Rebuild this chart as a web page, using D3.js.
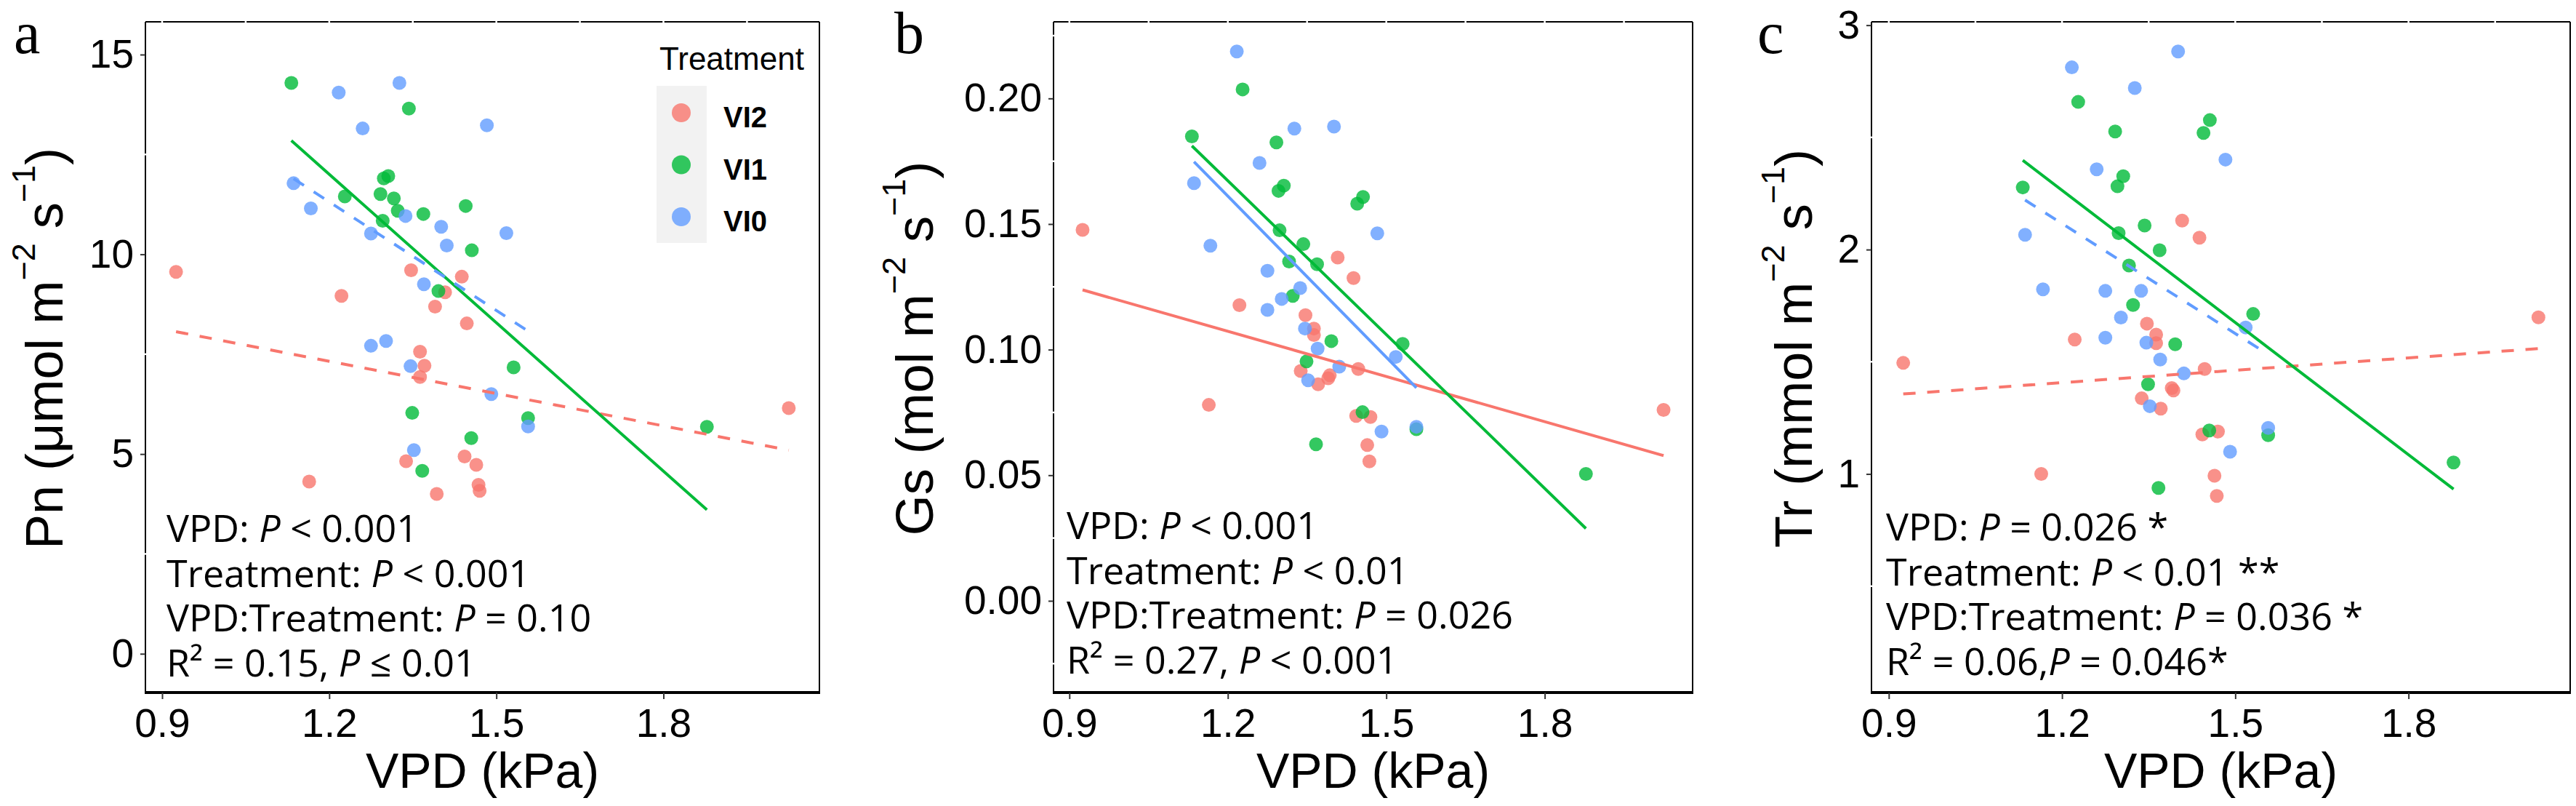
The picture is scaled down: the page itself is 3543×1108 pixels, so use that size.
<!DOCTYPE html>
<html>
<head>
<meta charset="utf-8">
<script src="https://cdn.jsdelivr.net/npm/d3@7"></script>
<style>
    body { margin: 0; background: #fff; }
</style>
</head>
<body>
<svg id="chart" width="3543" height="1108"></svg>
<script>
const treatments = ['VI2', 'VI1', 'VI0']
const vpdTicks = [0.9, 1.2, 1.5, 1.8]
const pnTicks = [0, 5, 10, 15]
const gsTicks = [0, 0.05, 0.1, 0.15, 0.2]
const trTicks = [1, 2, 3]

// one entry per leaf, VPD shared by the three responses
const vpdVI2 = [0.925, 1.164, 1.222, 1.338, 1.347, 1.363, 1.363, 1.371, 1.390, 1.393, 1.408, 1.438, 1.443, 1.447, 1.464, 1.468, 1.470, 2.025]
const pnVI2 = [9.56, 4.31, 8.96, 4.82, 9.60, 7.56, 6.93, 7.21, 8.69, 4.00, 9.05, 9.44, 4.94, 8.27, 4.73, 4.23, 4.08, 6.15]
const gsVI2 = [0.1477, 0.0780, 0.1177, 0.0915, 0.1137, 0.1084, 0.1058, 0.0862, 0.0886, 0.0898, 0.1367, 0.1285, 0.0736, 0.0923, 0.0620, 0.0555, 0.0732, 0.0760]
const trVI2 = [1.495, 1.000, 1.599, 1.337, 1.670, 1.621, 1.583, 1.291, 1.383, 1.372, 2.129, 2.053, 1.176, 1.468, 0.992, 0.902, 1.189, 1.698]

const vpdVI1 = [1.132, 1.228, 1.292, 1.296, 1.298, 1.306, 1.316, 1.323, 1.343, 1.349, 1.367, 1.369, 1.396, 1.445, 1.456, 1.455, 1.531, 1.557, 1.878]
const pnVI1 = [14.29, 11.45, 11.51, 10.84, 11.90, 11.96, 11.40, 11.09, 13.65, 6.03, 4.58, 11.01, 9.08, 11.21, 10.10, 5.40, 7.17, 5.90, 5.68]
const gsVI1 = [0.1849, 0.2036, 0.1825, 0.1632, 0.1475, 0.1653, 0.1351, 0.1214, 0.1420, 0.0953, 0.0623, 0.1340, 0.1034, 0.1581, 0.1608, 0.0751, 0.1023, 0.0683, 0.0505]
const trVI1 = [2.277, 2.658, 2.526, 2.282, 2.073, 2.327, 1.929, 1.753, 2.107, 1.400, 0.938, 1.997, 1.578, 2.520, 2.577, 1.194, 1.713, 1.173, 1.051]

const vpdVI0 = [1.136, 1.167, 1.217, 1.260, 1.275, 1.275, 1.302, 1.326, 1.337, 1.346, 1.352, 1.370, 1.401, 1.411, 1.483, 1.491, 1.518, 1.557]
const pnVI0 = [11.78, 11.15, 14.05, 13.15, 10.52, 7.71, 7.83, 14.29, 10.96, 7.20, 5.10, 9.25, 10.69, 10.22, 13.23, 6.50, 10.53, 5.69]
const gsVI0 = [0.1663, 0.1414, 0.2187, 0.1743, 0.1314, 0.1158, 0.1202, 0.1880, 0.1245, 0.1084, 0.0878, 0.1004, 0.1888, 0.0932, 0.1463, 0.0674, 0.0971, 0.0693]
const trVI0 = [2.066, 1.823, 2.812, 2.358, 1.816, 1.607, 1.697, 2.720, 1.816, 1.585, 1.302, 1.510, 2.883, 1.448, 2.401, 1.099, 1.653, 1.205]

// each line: text before the italic P, text after it
const statsPn = [['VPD: ', ' < 0.001'], ['Treatment: ', ' < 0.001'], ['VPD:Treatment: ', ' = 0.10'], ['R² = 0.15, ', ' ≤ 0.01']]
const statsGs = [['VPD: ', ' < 0.001'], ['Treatment: ', ' < 0.01'], ['VPD:Treatment: ', ' = 0.026'], ['R² = 0.27, ', ' < 0.001']]
const statsTr = [['VPD: ', ' = 0.026 *'], ['Treatment: ', ' < 0.01 **'], ['VPD:Treatment: ', ' = 0.036 *'], ['R² = 0.06,', ' = 0.046*']]

const vpd = { VI2: vpdVI2, VI1: vpdVI1, VI0: vpdVI0 }
const colors = { VI2: '#F8766D', VI1: '#00BA38', VI0: '#619CFF' }
const sans = 'Liberation Sans, Arial, sans-serif'
const noteFont = 'Open Sans, Noto Sans, sans-serif'

const panels = [
    {
        label: 'a', labelX: 19, box: { left: 200, right: 1127, top: 30, bottom: 952 },
        yDomain: [-0.97, 15.82], yTicks: pnTicks, yFormat: d3.format('d'),
        values: { VI2: pnVI2, VI1: pnVI1, VI0: pnVI0 },
        dashed: { VI2: true, VI1: false, VI0: true },
        title: ['Pn (μmol m', '−2', ' s', '−1', ')'], titleX: 86,
        stats: statsPn, statsX: 229, statsY: 745, legend: true
    },
    {
        label: 'b', labelX: 1230, box: { left: 1449, right: 2328, top: 30, bottom: 952 },
        yDomain: [-0.0365, 0.2305], yTicks: gsTicks, yFormat: d3.format('.2f'),
        values: { VI2: gsVI2, VI1: gsVI1, VI0: gsVI0 },
        dashed: { VI2: false, VI1: false, VI0: false },
        title: ['Gs (mol m', '−2', ' s', '−1', ')'], titleX: 1283,
        stats: statsGs, statsX: 1467, statsY: 741, legend: false
    },
    {
        label: 'c', labelX: 2417, box: { left: 2574, right: 3535, top: 30, bottom: 952 },
        yDomain: [0.026, 3.015], yTicks: trTicks, yFormat: d3.format('d'),
        values: { VI2: trVI2, VI1: trVI1, VI0: trVI0 },
        dashed: { VI2: true, VI1: false, VI0: true },
        title: ['Tr (mmol m', '−2', ' s', '−1', ')'], titleX: 2492,
        stats: statsTr, statsX: 2594, statsY: 743, legend: false
    }
]

// ordinary least squares, as geom_smooth(method = 'lm') does
function fit(xs, ys) {
    const mx = d3.mean(xs)
    const my = d3.mean(ys)
    const slope = d3.sum(xs, (x, i) => (x - mx) * (ys[i] - my)) / d3.sum(xs, x => (x - mx) ** 2)
    return { slope, intercept: my - slope * mx }
}

const svg = d3.select('#chart')

function drawPanel(p) {
    const { left, right, top, bottom } = p.box
    const x = d3.scaleLinear().domain([0.87, 2.08]).range([left, right])
    const y = d3.scaleLinear().domain(p.yDomain).range([bottom, top])
    const g = svg.append('g')

    // panel border, heavier along the bottom
    g.append('line').attr('x1', left).attr('x2', right).attr('y1', top).attr('y2', top)
        .attr('stroke', '#000').attr('stroke-width', 2)
    g.append('line').attr('x1', left).attr('x2', left).attr('y1', top).attr('y2', bottom)
        .attr('stroke', '#000').attr('stroke-width', 2)
    g.append('line').attr('x1', right).attr('x2', right).attr('y1', top).attr('y2', bottom)
        .attr('stroke', '#000').attr('stroke-width', 2)
    g.append('line').attr('x1', left - 1).attr('x2', right + 1).attr('y1', bottom).attr('y2', bottom)
        .attr('stroke', '#000').attr('stroke-width', 4)

    // white grid lines only show where they cut the border
    const xGrid = d3.range(0.9, 2.0, 0.15)
    g.selectAll('.xgap').data(xGrid).join('line')
        .attr('x1', d => x(d)).attr('x2', d => x(d))
        .attr('y1', top - 2).attr('y2', top + 2)
        .attr('stroke', '#fff').attr('stroke-width', 2.5)
    const step = p.yTicks[1] - p.yTicks[0]
    const yMinor = d3.range(p.yTicks[0] - step / 2, p.yDomain[1], step)
        .filter(d => d > p.yDomain[0] && d < p.yDomain[1])
    g.selectAll('.ygap').data(yMinor).join('line')
        .attr('x1', left - 2).attr('x2', left + 2)
        .attr('y1', d => y(d)).attr('y2', d => y(d))
        .attr('stroke', '#fff').attr('stroke-width', 2.5)

    const yAxis = g.append('g')
        .attr('transform', `translate(${left},0)`)
        .call(d3.axisLeft(y).tickValues(p.yTicks).tickFormat(p.yFormat).tickSize(7).tickPadding(9))
    const xAxis = g.append('g')
        .attr('transform', `translate(0,${bottom})`)
        .call(d3.axisBottom(x).tickValues(vpdTicks).tickFormat(d3.format('.1f')).tickSize(9).tickPadding(13))
    ;[yAxis, xAxis].forEach(axis => {
        axis.select('.domain').remove()
        axis.selectAll('.tick line').attr('stroke', '#333').attr('stroke-width', 2)
        axis.selectAll('.tick text')
            .attr('fill', '#000').attr('font-family', sans).attr('font-size', 55)
    })

    treatments.forEach(t => {
        g.append('g').selectAll('circle')
            .data(vpd[t].map((v, i) => [v, p.values[t][i]]))
            .join('circle')
            .attr('cx', d => x(d[0]))
            .attr('cy', d => y(d[1]))
            .attr('r', 9.5)
            .attr('fill', colors[t])
            .attr('fill-opacity', 0.8)
    })

    treatments.forEach(t => {
        const { slope, intercept } = fit(vpd[t], p.values[t])
        const ends = d3.extent(vpd[t])
        g.append('path')
            .datum(ends)
            .attr('d', d3.line().x(v => x(v)).y(v => y(intercept + slope * v)))
            .attr('fill', 'none')
            .attr('stroke', colors[t])
            .attr('stroke-width', 4)
            .attr('stroke-dasharray', p.dashed[t] ? '17,16' : null)
    })

    const notes = g.append('text')
        .attr('font-family', noteFont)
        .attr('font-size', 52)
        .attr('fill', '#000')
    p.stats.forEach((line, i) => {
        notes.append('tspan').attr('x', p.statsX).attr('y', p.statsY + i * 61.7).text(line[0])
        notes.append('tspan').attr('font-style', 'italic').text('P')
        notes.append('tspan').text(line[1])
    })

    const midY = (top + bottom) / 2 - 12
    const title = g.append('text')
        .attr('transform', `translate(${p.titleX},${midY}) rotate(-90)`)
        .attr('text-anchor', 'middle')
        .attr('font-family', sans)
        .attr('font-size', 72)
        .attr('fill', '#000')
    title.append('tspan').text(p.title[0])
    title.append('tspan').attr('font-size', 45).attr('dy', -38).text(p.title[1])
    title.append('tspan').attr('dy', 38).text(p.title[2])
    title.append('tspan').attr('font-size', 45).attr('dy', -38).text(p.title[3])
    title.append('tspan').attr('dy', 38).text(p.title[4])

    g.append('text')
        .attr('x', (left + right) / 2)
        .attr('y', 1083)
        .attr('text-anchor', 'middle')
        .attr('font-family', sans)
        .attr('font-size', 68)
        .text('VPD (kPa)')

    g.append('text')
        .attr('x', p.labelX)
        .attr('y', 73)
        .attr('font-family', 'Liberation Serif, Times New Roman, serif')
        .attr('font-size', 82)
        .text(p.label)

    if (p.legend) drawLegend(g)
}

function drawLegend(g) {
    g.append('text')
        .attr('x', 907).attr('y', 96)
        .attr('font-family', sans).attr('font-size', 44)
        .text('Treatment')
    g.append('rect')
        .attr('x', 903).attr('y', 118).attr('width', 69).attr('height', 216)
        .attr('fill', '#F2F2F2')
    const keys = g.selectAll('.key').data(treatments).join('g')
        .attr('transform', (d, i) => `translate(0,${155 + i * 71.5})`)
    keys.append('circle')
        .attr('cx', 937).attr('r', 13)
        .attr('fill', d => colors[d]).attr('fill-opacity', 0.8)
    keys.append('text')
        .attr('x', 995).attr('y', 20)
        .attr('font-family', sans).attr('font-size', 40).attr('font-weight', 'bold')
        .text(d => d)
}

panels.forEach(drawPanel)
</script>
</body>
</html>
